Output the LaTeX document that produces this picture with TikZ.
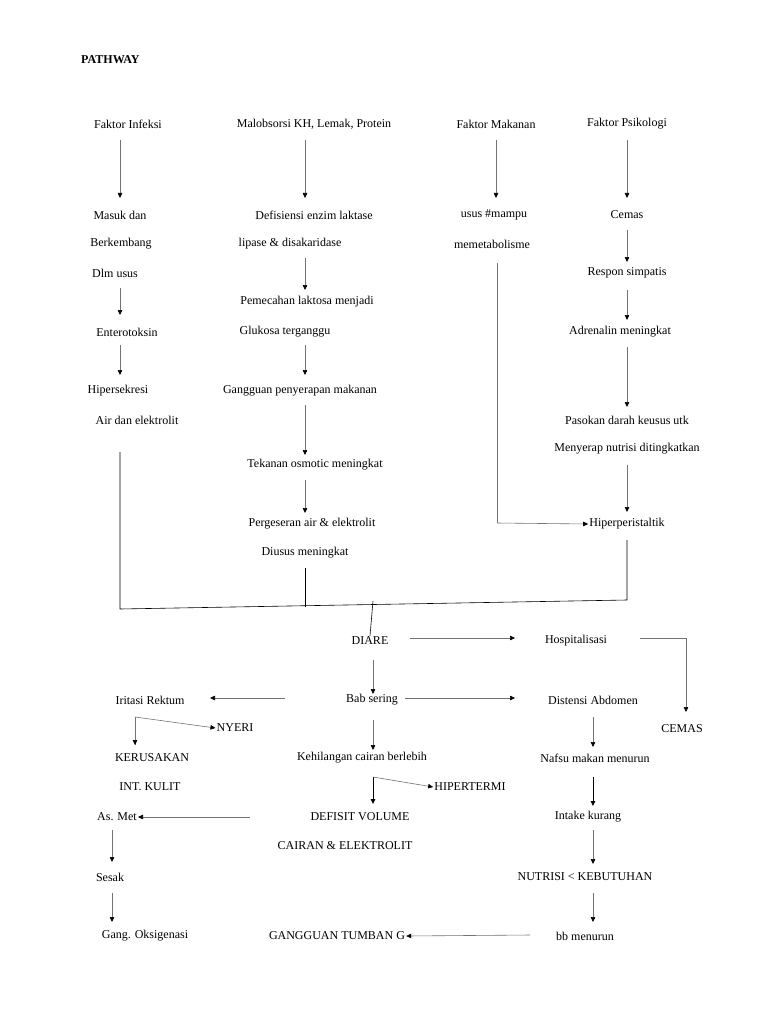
\documentclass[tikz,border=0pt]{standalone}
\usepackage{fontspec}
\setmainfont{Liberation Serif}
\usetikzlibrary{arrows.meta}
\begin{document}
\begin{tikzpicture}[x=1pt,y=-1pt,
  t/.style={inner sep=1pt,font=\fontsize{12}{14}\selectfont},
  ln/.style={draw=black!55,line width=0.6pt},
  ar/.style={ln,-{Triangle[length=5pt,width=4.5pt,fill=black,color=black]}},
  bar/.style={draw=black,line width=1pt,-{Triangle[length=5pt,width=4.5pt]}}]
\useasboundingbox (0,0) rectangle (768,1024);
\node[t,anchor=west,font=\bfseries\fontsize{12}{14}\selectfont] (pw) at (80,60) {PATHWAY};
% column 1
\node[t] (fi) at (128,124) {Faktor Infeksi};
\node[t] (md) at (120,215) {Masuk dan};
\node[t] (bk) at (121,244) {Berkembang};
\node[t] (du) at (115,273) {Dlm usus};
\node[t] (en) at (127,332) {Enterotoksin};
\node[t] (hs) at (118,391) {Hipersekresi};
\node[t] (ae) at (137,420) {Air dan elektrolit};
% column 2
\node[t] (mk) at (314,124) {Malobsorsi KH, Lemak, Protein};
\node[t] (de) at (314,215) {Defisiensi enzim laktase};
\node[t] (ld) at (290,244) {lipase \& disakaridase};
\node[t] (pl) at (307,302) {Pemecahan laktosa menjadi};
\node[t] (gt) at (285,332) {Glukosa terganggu};
\node[t] (gp) at (300,391) {Gangguan penyerapan makanan};
\node[t] (to) at (315,465) {Tekanan osmotic meningkat};
\node[t] (pa) at (312,524) {Pergeseran air \& elektrolit};
\node[t] (dm) at (305,553) {Diusus meningkat};
% column 3
\node[t] (fm) at (496,124) {Faktor Makanan};
\node[t] (um) at (494,215) {usus \#mampu};
\node[t] (mm) at (492,244) {memetabolisme};
% column 4
\node[t] (fp) at (627,124) {Faktor Psikologi};
\node[t] (ce) at (627,215) {Cemas};
\node[t] (rs) at (627,273) {Respon simpatis};
\node[t] (am) at (620,332) {Adrenalin meningkat};
\node[t] (pd) at (627,420) {Pasokan darah keusus utk};
\node[t] (mn) at (627,449) {Menyerap nutrisi ditingkatkan};
\node[t] (hp) at (627,524) {Hiperperistaltik};
% lower
\node[t] (di) at (370,641) {DIARE};
\node[t] (ho) at (576,641) {Hospitalisasi};
\node[t] (cm) at (682,729) {CEMAS};
\node[t] (bs) at (372,700) {Bab sering};
\node[t] (ir) at (150,700) {Iritasi Rektum};
\node[t] (da) at (593,700) {Distensi Abdomen};
\node[t] (ny) at (235,728) {NYERI};
\node[t] (ks) at (152,758) {KERUSAKAN};
\node[t] (ik) at (150,787) {INT. KULIT};
\node[t] (kc) at (362,758) {Kehilangan cairan berlebih};
\node[t] (ht) at (470,787) {HIPERTERMI};
\node[t] (nm) at (595,758) {Nafsu makan menurun};
\node[t] (as) at (117,817) {As. Met};
\node[t] (dv) at (360,817) {DEFISIT VOLUME};
\node[t] (ca) at (345,846) {CAIRAN \& ELEKTROLIT};
\node[t] (ik2) at (588,817) {Intake kurang};
\node[t] (se) at (110,877) {Sesak};
\node[t] (nk) at (585,877) {NUTRISI < KEBUTUHAN};
\node[t] (go) at (145,936) {Gang. Oksigenasi};
\node[t] (gg) at (337,936) {GANGGUAN TUMBAN G};
\node[t] (bb) at (585,936) {bb menurun};
% coordinates
\coordinate (c1) at (120,452);
\coordinate (c2) at (120,609);
\coordinate (c3) at (627,600);
\coordinate (c4) at (627,540);
\coordinate (c5) at (305,568);
\coordinate (c6) at (305,607);
\coordinate (c7) at (373,601);
\coordinate (c8) at (497,263);
\coordinate (c9) at (497,523);
\coordinate (c10) at (686,638);
% arrows top
\draw[ar] (120,140) -- (120,198);
\draw[ar] (305,140) -- (305,198);
\draw[ar] (496,140) -- (496,198);
\draw[ar] (627,140) -- (627,198);
\draw[ar] (120,288) -- (120,315);
\draw[ar] (120,345) -- (120,375);
\draw[ar] (305,258) -- (305,290);
\draw[ar] (305,345) -- (305,375);
\draw[ar] (305,405) -- (305,455);
\draw[ar] (305,480) -- (305,513);
\draw[ar] (627,230) -- (627,262);
\draw[ar] (627,290) -- (627,320);
\draw[ar] (627,347) -- (627,407);
\draw[ar] (627,465) -- (627,512);
\draw[ln] (c8) -- (c9);
\draw[ar] (c9) -- (hp.west);
\draw[draw=black,line width=0.6pt] (c1) -- (c2) -- (c3) -- (c4);
\draw[draw=black,line width=0.6pt] (c5) -- (c6);
\draw[draw=black,line width=0.6pt] (c7) -- (di.north);
% lower arrows
\draw[ar] (410,638) -- (515,638);
\draw[ln] (640,638) -- (c10);
\draw[ar] (c10) -- (686,712);
\draw[ar] (373,660) -- (373,694);
\draw[ar] (285,698) -- (210,698);
\draw[ar] (360+0,698) ++(45,0) -- (515,698);
\draw[ln] (135,717) -- (135,745);
\draw[ar] (135,717) -- (135,745);
\draw[ar] (135,717) -- (ny.west);
\draw[ar] (373,720) -- (373,750);
\draw[bar] (373,777) -- (373,804);
\draw[ar] (373,777) -- (ht.west);
\draw[ar] (593,717) -- (593,747);
\draw[bar] (593,777) -- (593,806);
\draw[ar] (250,817) -- (as.east);
\draw[ar] (112,830) -- (112,862);
\draw[ar] (112,893) -- (112,922);
\draw[ar] (593,830) -- (593,864);
\draw[ar] (593,893) -- (593,922);
\draw[ar] (530,935) -- (gg.east);
\end{tikzpicture}
\end{document}
